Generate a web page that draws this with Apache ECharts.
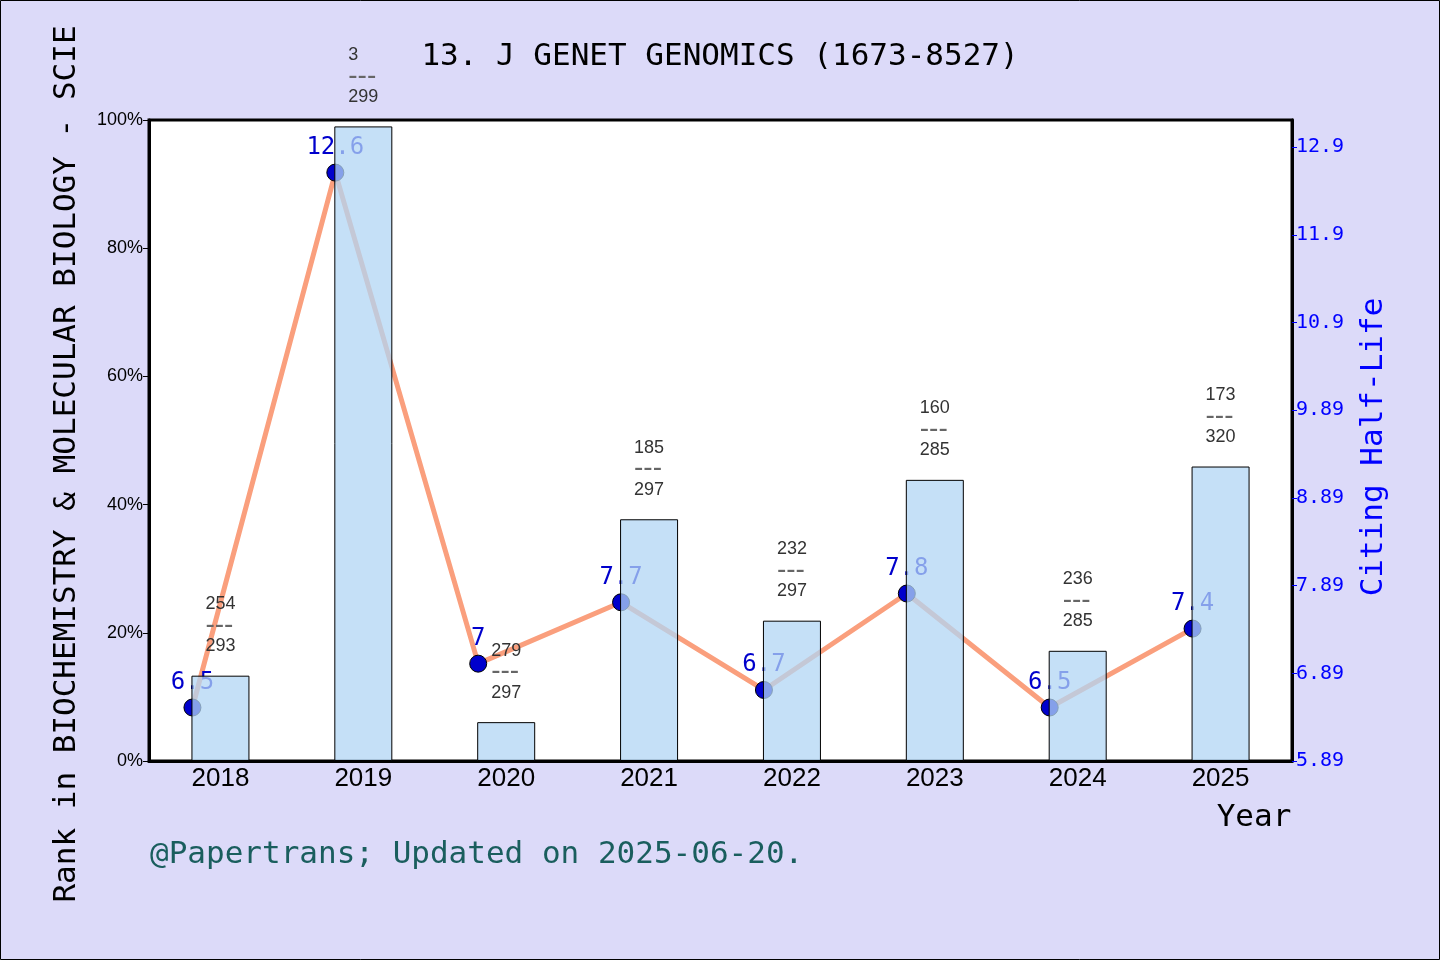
<!DOCTYPE html>
<html style="height: 100%">
<head>
<meta charset="utf-8">
<script src="https://cdn.jsdelivr.net/npm/echarts@6/dist/echarts.min.js"></script>
</head>
<body style="height: 100%; margin: 0; background: #dcdaf9">
<div id="container" style="height: 960px; width: 1440px;"></div>
<script type="text/javascript">
// data
var years = ['2018', '2019', '2020', '2021', '2022', '2023', '2024', '2025'];
var rank = [254, 3, 279, 185, 232, 160, 236, 173];
var total = [293, 299, 297, 297, 297, 285, 285, 320];
var halfLife = [6.5, 12.6, 7, 7.7, 6.7, 7.8, 6.5, 7.4];
var pctTicks = [0, 20, 40, 60, 80, 100];

var mono = '"DejaVu Sans Mono", monospace';
var sans = '"Liberation Sans", Arial, sans-serif';

// bar height = share of journals ranked below
var barData = rank.map(function (r, i) {
    return +(100 * (1 - r / total[i])).toFixed(2);
});

var dom = document.getElementById('container');
var myChart = echarts.init(dom);

var option = {
    backgroundColor: '#dcdaf9',
    animation: false,
    title: {
        text: '13. J GENET GENOMICS (1673-8527)',
        left: 'center',
        top: 36,
        textStyle: { fontFamily: mono, fontSize: 31, fontWeight: 'normal', color: '#000' }
    },
    grid: [
        { left: 149, top: 120, right: 148, bottom: 199, show: true,
          backgroundColor: '#fff', borderColor: '#000', borderWidth: 3 },
        // same size, shifted left so the line sits on the bar's left edge
        { left: 121, top: 120, right: 176, bottom: 199 }
    ],
    xAxis: [
        {
            type: 'category', gridIndex: 0, data: years,
            axisLine: { lineStyle: { color: '#000', width: 3 } },
            axisTick: { inside: true, length: 7, lineStyle: { color: '#000' } },
            axisLabel: { fontFamily: sans, fontSize: 26, color: '#000', margin: 5 }
        },
        {
            type: 'category', gridIndex: 1, data: years, show: false
        }
    ],
    yAxis: [
        {
            type: 'value', gridIndex: 0, min: 0, max: 100, interval: 20,
            splitLine: { show: false },
            axisLine: { show: true, lineStyle: { color: '#000', width: 3 } },
            axisTick: { show: true, length: 6, lineStyle: { color: '#000' } },
            axisLabel: { fontFamily: sans, fontSize: 18, color: '#000', margin: 6,
                formatter: function (v) { return pctTicks.indexOf(v) >= 0 ? v + '%' : ''; } }
        },
        {
            type: 'value', gridIndex: 0, position: 'right', min: 5.89, max: 13.2, interval: 1,
            splitLine: { show: false },
            axisLine: { show: true, lineStyle: { color: '#000', width: 3 } },
            axisTick: { show: true, length: 5, lineStyle: { color: '#0000ff' } },
            axisLabel: { fontFamily: mono, fontSize: 20, color: '#0000ff', margin: 4, showMaxLabel: false,
                formatter: function (v) { return (+v.toPrecision(3)).toString(); } }
        },
        {
            type: 'value', gridIndex: 1, min: 5.89, max: 13.2, show: false
        }
    ],
    series: [
        {
            type: 'line', xAxisIndex: 1, yAxisIndex: 2, z: 2,
            data: halfLife,
            symbol: 'circle', symbolSize: 17,
            lineStyle: { color: '#fa9f7d', width: 5 },
            itemStyle: { color: '#0000cc', borderColor: '#000', borderWidth: 1 },
            label: { show: true, position: 'top', distance: 4, color: '#0000cc',
                fontFamily: mono, fontSize: 24 }
        },
        {
            type: 'bar', xAxisIndex: 0, yAxisIndex: 0, z: 3,
            data: barData, barWidth: 58,
            itemStyle: { color: 'rgba(178,214,244,0.75)', borderColor: '#000', borderWidth: 1 },
            label: {
                show: true, position: 'top', distance: 19,
                formatter: function (p) {
                    var i = p.dataIndex;
                    return '{n|' + rank[i] + '}\n{d|---}\n{n|' + total[i] + '}';
                },
                rich: {
                    n: { align: 'left', fontFamily: sans, fontSize: 18, color: '#333', lineHeight: 21 },
                    d: { align: 'left', fontFamily: sans, fontSize: 28, color: '#666', lineHeight: 21 }
                }
            }
        }
    ],
    graphic: [
        { type: 'rect', shape: { x: 0.5, y: 0.5, width: 1439, height: 959 }, silent: true,
          style: { fill: 'none', stroke: '#000', lineWidth: 1 } },
        { type: 'text', x: 67, y: 464, rotation: Math.PI / 2,
          style: { text: 'Rank in BIOCHEMISTRY & MOLECULAR BIOLOGY - SCIE', fontFamily: mono, fontSize: 31,
                   fill: '#000', align: 'center', verticalAlign: 'middle' } },
        { type: 'text', x: 1374, y: 447, rotation: Math.PI / 2,
          style: { text: 'Citing Half-Life', fontFamily: mono, fontSize: 31,
                   fill: '#0000ff', align: 'center', verticalAlign: 'middle' } },
        { type: 'text', x: 1254, y: 818,
          style: { text: 'Year', fontFamily: mono, fontSize: 31,
                   fill: '#000', align: 'center', verticalAlign: 'middle' } },
        { type: 'text', x: 150, y: 855,
          style: { text: '@Papertrans; Updated on 2025-06-20.', fontFamily: mono, fontSize: 31,
                   fill: '#1a5e5e', align: 'left', verticalAlign: 'middle' } }
    ]
};

myChart.setOption(option, true);
</script>
</body>
</html>
